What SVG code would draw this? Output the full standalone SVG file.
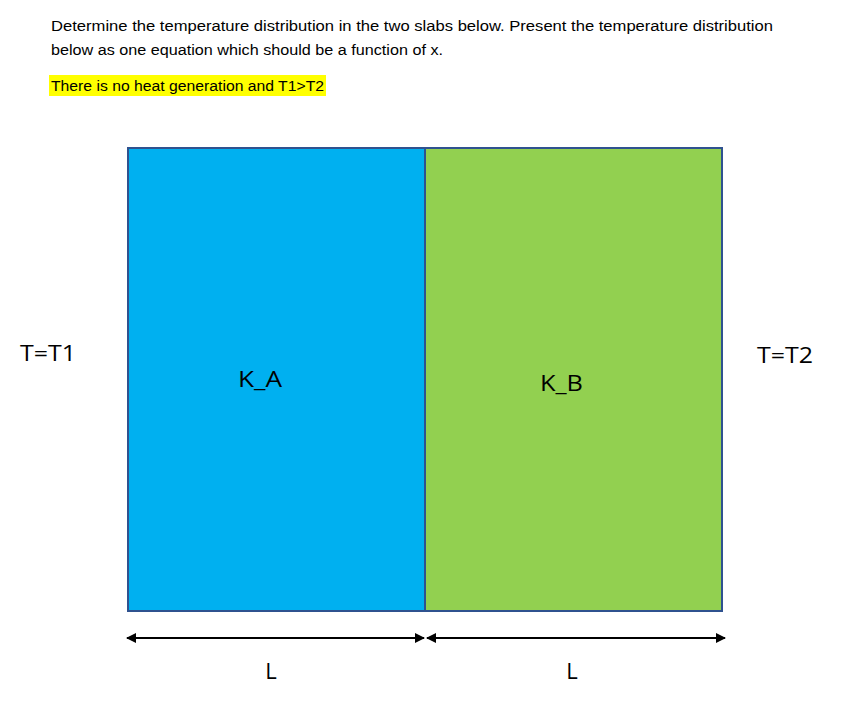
<svg xmlns="http://www.w3.org/2000/svg" width="842" height="701" viewBox="0 0 842 701">
<style>
.q{font-family:"Liberation Sans",Arial,sans-serif;font-size:15.5px;fill:#000}
.lbl{font-family:"Open Sans","Noto Sans",sans-serif;font-size:22px;fill:#000}
.slab{stroke:#2F528F;stroke-width:2}
.dim{stroke:#000;stroke-width:2;fill:none}
</style>
<defs>
<marker id="ah" viewBox="0 0 10 10" refX="9" refY="5" markerWidth="5" markerHeight="5" orient="auto-start-reverse" markerUnits="strokeWidth">
<path d="M0,0 L10,5 L0,10 z" fill="#000"/>
</marker>
</defs>
<rect width="842" height="701" fill="#fff"/>
<g id="question">
<text class="q" x="51" y="31" textLength="722" lengthAdjust="spacingAndGlyphs">Determine the temperature distribution in the two slabs below. Present the temperature distribution</text>
<text class="q" x="51" y="55" textLength="392" lengthAdjust="spacingAndGlyphs">below as one equation which should be a function of x.</text>
<rect x="49" y="75" width="277" height="21" fill="#FFFF00"/>
<text class="q" x="51" y="91" textLength="273" lengthAdjust="spacingAndGlyphs">There is no heat generation and T1&gt;T2</text>
</g>
<g id="slabA">
<rect class="slab" x="128" y="148" width="297" height="463" fill="#00B0F0"/>
<text class="lbl" x="238" y="387" textLength="44" lengthAdjust="spacingAndGlyphs">K_A</text>
</g>
<g id="slabB">
<rect class="slab" x="425" y="148" width="297" height="463" fill="#92D050"/>
<text class="lbl" x="540" y="391" textLength="43" lengthAdjust="spacingAndGlyphs">K_B</text>
</g>
<g id="leftBC">
<text class="lbl" x="20" y="361" textLength="56" lengthAdjust="spacingAndGlyphs">T=T1</text>
</g>
<g id="rightBC">
<text class="lbl" x="757" y="363" textLength="56" lengthAdjust="spacingAndGlyphs">T=T2</text>
</g>
<g id="connectors">
<line class="dim" x1="127" y1="638" x2="424" y2="638" marker-start="url(#ah)" marker-end="url(#ah)"/>
<line class="dim" x1="427" y1="638" x2="725" y2="638" marker-start="url(#ah)" marker-end="url(#ah)"/>
</g>
<g id="dims">
<text class="lbl" x="271" y="679" text-anchor="middle">L</text>
<text class="lbl" x="572" y="679" text-anchor="middle">L</text>
</g>
</svg>
